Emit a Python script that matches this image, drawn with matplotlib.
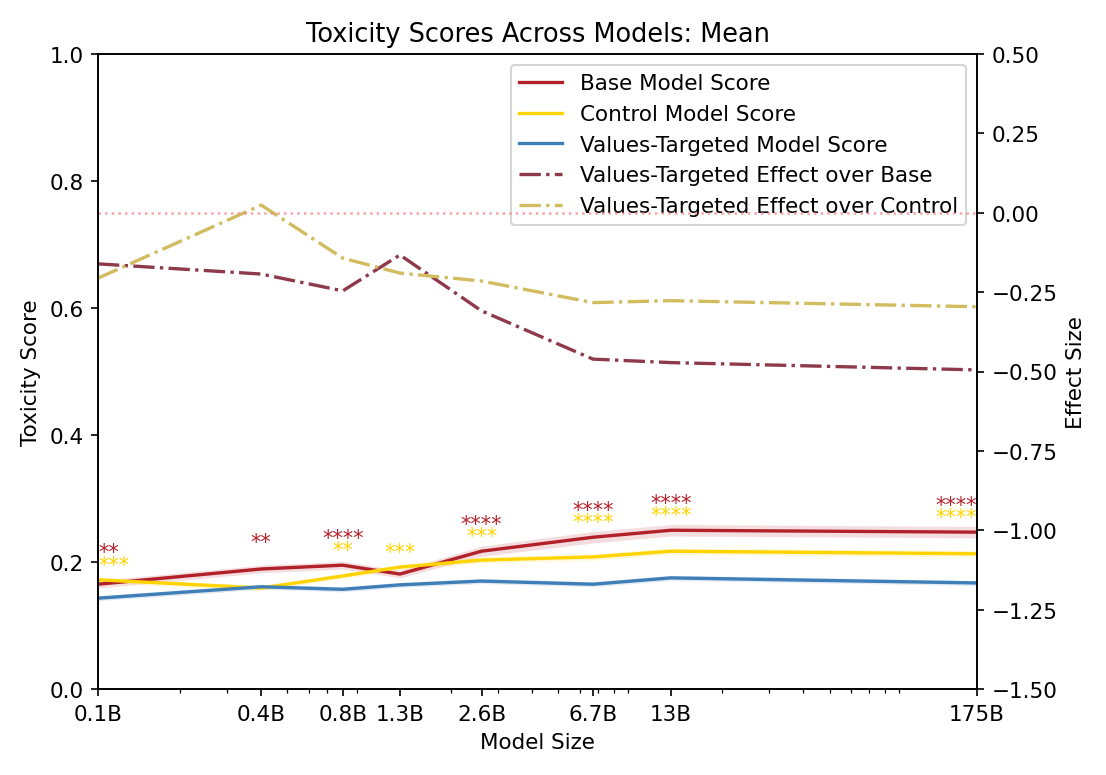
import numpy as np
import matplotlib
matplotlib.use("Agg")
import matplotlib.pyplot as plt
from matplotlib.ticker import FuncFormatter

plt.rcParams["font.size"] = 10.3

# model sizes (billions of parameters) and tick labels
sizes = [0.1, 0.4, 0.8, 1.3, 2.6, 6.7, 13, 175]
size_labels = ["0.1B", "0.4B", "0.8B", "1.3B", "2.6B", "6.7B", "13B", "175B"]

# mean toxicity scores
base_score = [0.165, 0.189, 0.195, 0.181, 0.217, 0.239, 0.250, 0.247]
control_score = [0.172, 0.159, 0.178, 0.192, 0.203, 0.208, 0.217, 0.213]
vt_score = [0.143, 0.161, 0.157, 0.164, 0.170, 0.165, 0.175, 0.167]

# half-width of the shaded bands
base_err = [0.006, 0.006, 0.006, 0.006, 0.008, 0.009, 0.009, 0.009]
control_err = [0.004, 0.004, 0.004, 0.004, 0.005, 0.005, 0.005, 0.005]
vt_err = [0.004, 0.004, 0.004, 0.004, 0.004, 0.004, 0.004, 0.004]

# effect sizes (right axis)
effect_base = [-0.161, -0.193, -0.246, -0.133, -0.309, -0.461, -0.472, -0.495]
effect_control = [-0.206, 0.024, -0.143, -0.190, -0.215, -0.283, -0.277, -0.296]

# significance stars
stars_base = ["**", "**", "****", "", "****", "****", "****", "****"]
stars_control = ["***", "", "**", "***", "***", "****", "****", "****"]

c_base = "#b2202a"
c_control = "#ffd400"
c_vt = "#3f7fb8"
c_eff_base = "#8e3a4a"
c_eff_control = "#d1bc60"

fig = plt.figure(figsize=(1106 / 150, 776 / 150), dpi=150)
ax1 = fig.add_axes([98 / 1106, 1 - 690 / 776, (977 - 98) / 1106, (690 - 55) / 776])
ax2 = ax1.twinx()

x = np.array(sizes)
for vals, err, col, lab in [
    (base_score, base_err, c_base, "Base Model Score"),
    (control_score, control_err, c_control, "Control Model Score"),
    (vt_score, vt_err, c_vt, "Values-Targeted Model Score"),
]:
    vals = np.array(vals)
    err = np.array(err)
    ax1.plot(x, vals, color=col, lw=1.6, label=lab)
    ax1.fill_between(x, vals - err, vals + err, color=col, alpha=0.15, lw=0)

# significance annotations
top = np.maximum(base_score, control_score)
for i, s in enumerate(sizes):
    ha = "left" if i == 0 else ("right" if i == len(sizes) - 1 else "center")
    if stars_base[i]:
        ax1.text(s, top[i] + 0.043, stars_base[i], color=c_base, ha=ha, va="center", fontsize=10)
    if stars_control[i]:
        ax1.text(s, top[i] + 0.024, stars_control[i], color=c_control, ha=ha, va="center", fontsize=10)

ax2.plot(x, effect_base, color=c_eff_base, ls="-.", lw=1.6, label="Values-Targeted Effect over Base")
ax2.plot(x, effect_control, color=c_eff_control, ls="-.", lw=1.6, label="Values-Targeted Effect over Control")
ax2.axhline(0, color="lightcoral", ls=":", lw=1.2, alpha=0.7)

ax1.set_xscale("log")
ax1.set_xlim(0.1, 175)
ax1.set_xticks(sizes)
ax1.set_xticklabels(size_labels)
ax1.set_ylim(0, 1)
ax2.set_ylim(-1.5, 0.5)
ax2.set_yticks(np.arange(-1.5, 0.51, 0.25))
ax2.yaxis.set_major_formatter(FuncFormatter(lambda v, p: f"{v:.2f}".replace("-", "\u2212")))

ax1.set_xlabel("Model Size")
ax1.set_ylabel("Toxicity Score")
ax2.set_ylabel("Effect Size")
ax1.set_title("Toxicity Scores Across Models: Mean", fontsize=12.3)

h1, l1 = ax1.get_legend_handles_labels()
h2, l2 = ax2.get_legend_handles_labels()
ax1.legend(h1 + h2, l1 + l2, loc="upper right")

fig.savefig("out.png", dpi=150)
